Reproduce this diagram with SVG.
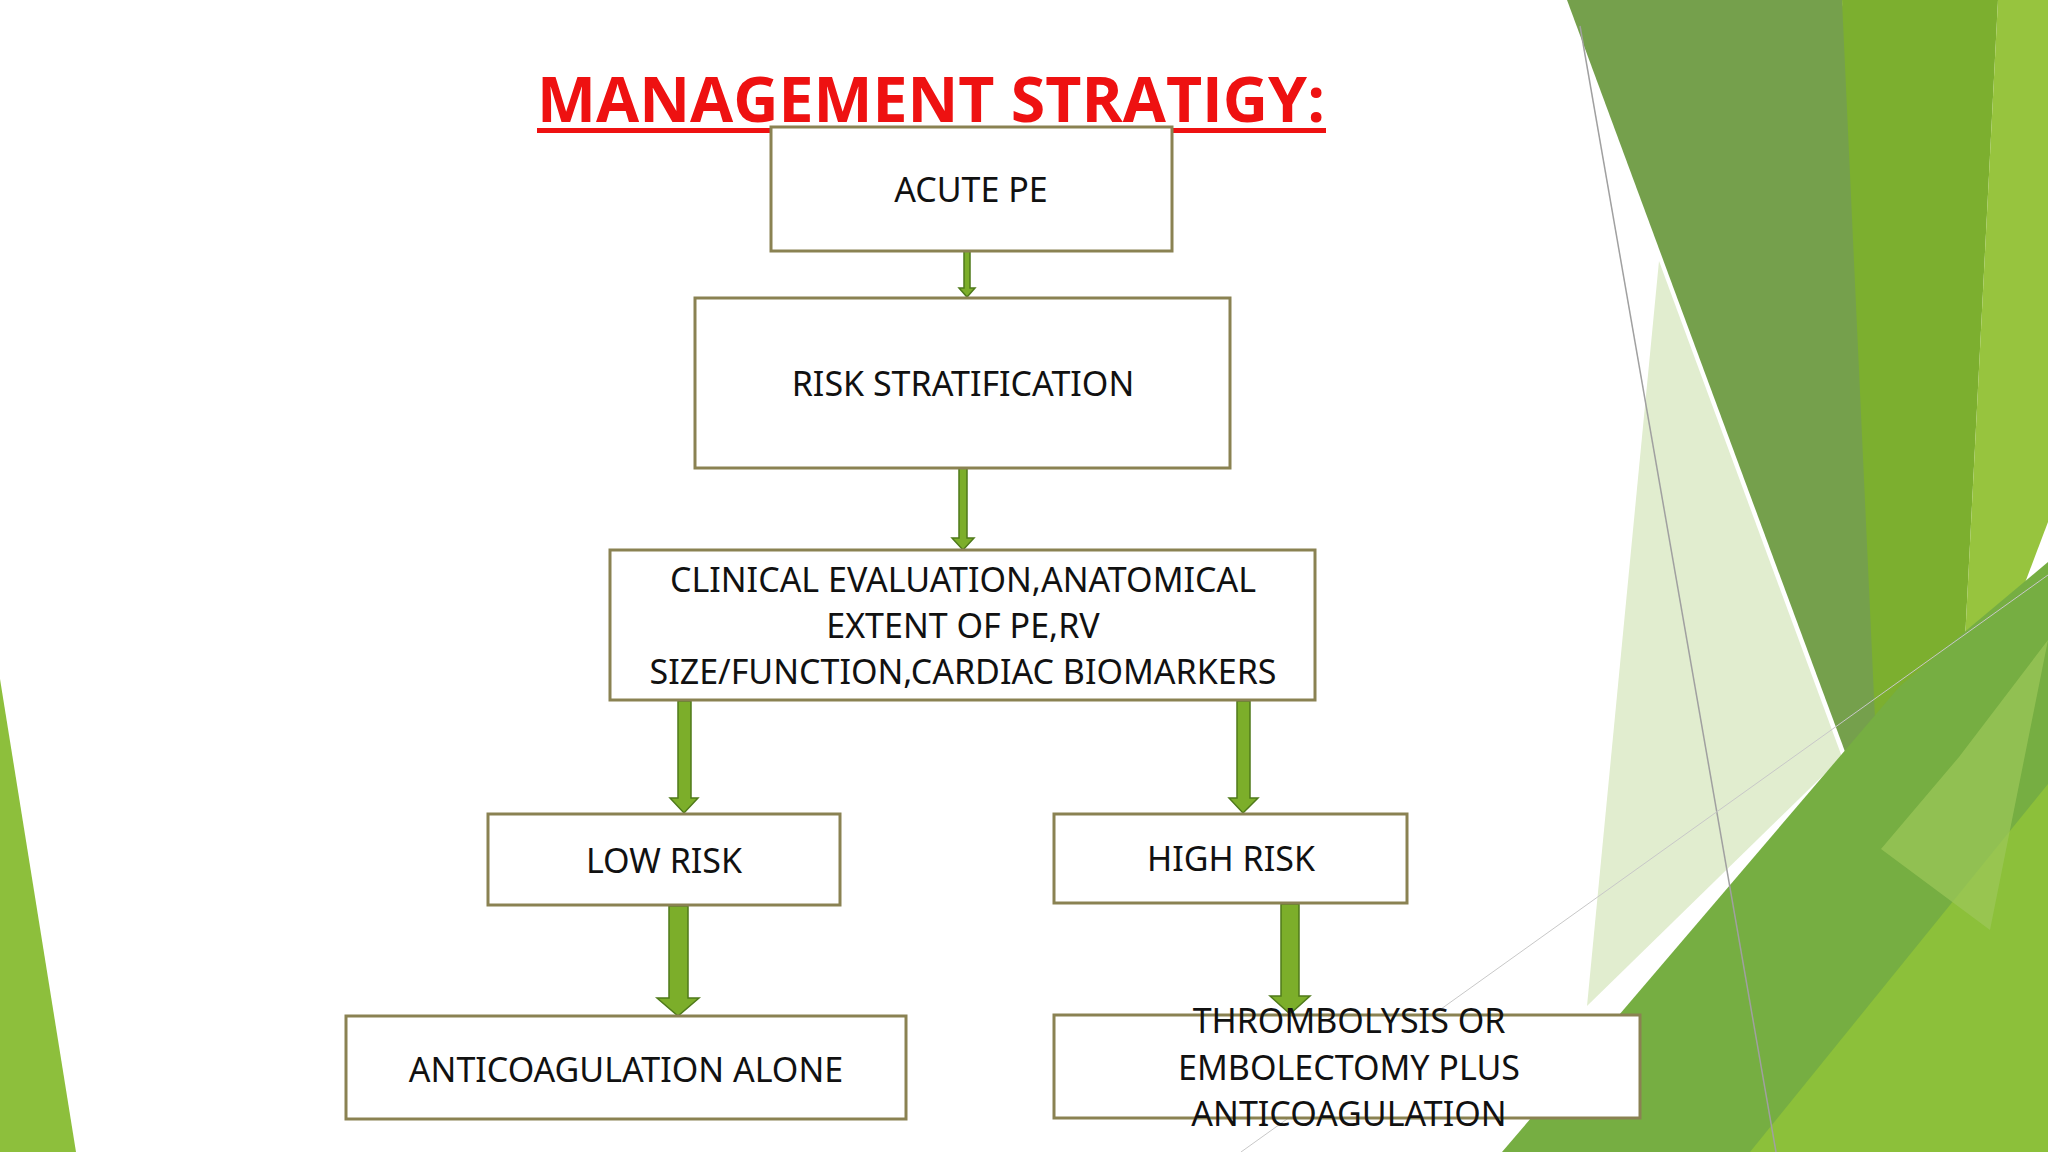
<svg xmlns="http://www.w3.org/2000/svg" width="2048" height="1152" viewBox="0 0 2048 1152">
<style>
.box{fill:#ffffff;stroke:#8a8252;stroke-width:3}
.t{font-family:"Noto Sans","DejaVu Sans",sans-serif;font-size:34px;fill:#111;text-anchor:middle}
.arr{fill:#7cae2a;stroke:#4f7a1a;stroke-width:1.5}
</style>
<rect width="2048" height="1152" fill="#ffffff"/>
<g id="background">
<polygon points="1567,0 1842,0 1920,522 1881,849" fill="#75a04c"/>
<polygon points="1842,0 1998,0 1959,757 1881,849" fill="#7caf2f"/>
<polygon points="1998,0 2048,0 2048,522 1959,757" fill="#97c43e"/>
<polygon points="1659,261 1842,757 1587,1006" fill="#e1edcf"/>
<polygon points="1502,1152 1900,686 2048,562 2048,1152" fill="#76ae42"/>
<polygon points="1750,1152 2048,784 2048,1152" fill="#8cc03a"/>
<polygon points="1881,849 1959,757 2048,640 1990,930" fill="#9cc85a" opacity="0.7"/>
<polygon points="0,679 76,1152 0,1152" fill="#8dbf3c"/>
<line x1="1580" y1="26" x2="1776" y2="1152" stroke="#a0a0a0" stroke-width="1.5"/>
<line x1="1241" y1="1152" x2="2048" y2="575" stroke="#c8c8c8" stroke-width="1"/>
</g>
<g id="title">
<text x="931" y="122" font-family="'Open Sans','Noto Sans',sans-serif" font-weight="bold" font-size="62" fill="#ee1111" text-anchor="middle" textLength="788" lengthAdjust="spacingAndGlyphs">MANAGEMENT STRATIGY:</text>
<rect x="537" y="128" width="789" height="5" fill="#ee1111"/>
</g>
<g id="connectors">
<polygon class="arr" points="964,251 970,251 970,288 975,288 967,297 959,288 964,288"/>
<polygon class="arr" points="959,466 967,466 967,538 974,538 963,550 952,538 959,538"/>
<polygon class="arr" points="678,701 691,701 691,798 698,798 684,813 670,798 678,798"/>
<polygon class="arr" points="1237,701 1250,701 1250,798 1258,798 1243,813 1229,798 1237,798"/>
<polygon class="arr" points="669,906 688,906 688,998 699,998 678,1016 657,998 669,998"/>
<polygon class="arr" points="1281,904 1299,904 1299,996 1310,996 1290,1014 1270,996 1281,996"/>
</g>
<g id="acute"><rect class="box" x="771" y="127" width="401" height="124"/><text class="t" x="971" y="202">ACUTE PE</text></g>
<g id="risk"><rect class="box" x="695" y="298" width="535" height="170"/><text class="t" x="963" y="396">RISK STRATIFICATION</text></g>
<g id="clinical"><rect class="box" x="610" y="550" width="705" height="150"/>
<text class="t" x="963" y="592">CLINICAL EVALUATION,ANATOMICAL</text>
<text class="t" x="963" y="638">EXTENT OF PE,RV</text>
<text class="t" x="963" y="684">SIZE/FUNCTION,CARDIAC BIOMARKERS</text></g>
<g id="low"><rect class="box" x="488" y="814" width="352" height="91"/><text class="t" x="664" y="873">LOW RISK</text></g>
<g id="high"><rect class="box" x="1054" y="814" width="353" height="89"/><text class="t" x="1231" y="871">HIGH RISK</text></g>
<g id="anticoag"><rect class="box" x="346" y="1016" width="560" height="103"/><text class="t" x="626" y="1082">ANTICOAGULATION ALONE</text></g>
<g id="thrombo"><rect class="box" x="1054" y="1015" width="586" height="103"/>
<text class="t" x="1349" y="1033">THROMBOLYSIS OR</text>
<text class="t" x="1349" y="1080">EMBOLECTOMY PLUS</text>
<text class="t" x="1349" y="1126">ANTICOAGULATION</text></g>
</svg>
